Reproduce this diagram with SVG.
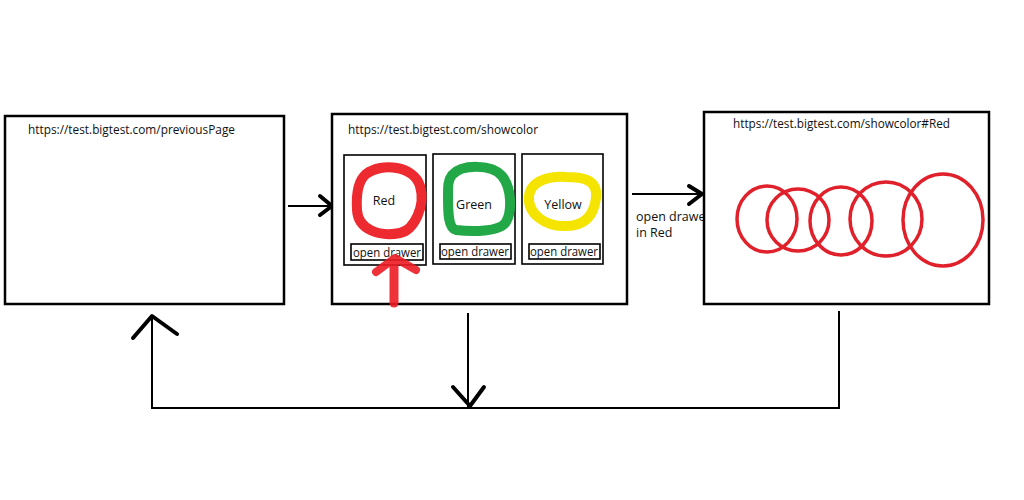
<svg xmlns="http://www.w3.org/2000/svg" width="1024" height="500" viewBox="0 0 1024 500">
<defs>
<style>
text{font-family:"Open Sans","Liberation Sans",sans-serif;font-size:12.5px;fill:#111}
.box{fill:#fff;stroke:#000;stroke-width:2.5}
.card{fill:#fff;stroke:#000;stroke-width:1.6}
.btn{fill:#fff;stroke:#000;stroke-width:1.6}
.conn{fill:none;stroke:#000;stroke-width:2}
.head{fill:none;stroke:#000;stroke-width:4;stroke-linecap:round;stroke-linejoin:round}
.ring{fill:none;stroke:#e0202a;stroke-width:3.5}
</style>
</defs>
<rect width="1024" height="500" fill="#fff"/>
<g id="connectors">
<line class="conn" x1="288" y1="206" x2="332" y2="206"/>
<polyline class="head" points="320,196 332,206 320,215"/>
<line class="conn" x1="632" y1="194" x2="703" y2="194"/>
<polyline class="head" points="689,186 702,194 689,204"/>
<text x="636" y="221">open drawer</text>
<text x="636" y="237">in Red</text>
<polyline class="conn" points="839,311 839,408 152,408 152,316" stroke-width="2.5"/>
<polyline class="head" points="133,338 152,316 177,334"/>
<line class="conn" x1="468" y1="313" x2="468" y2="407"/>
<polyline class="head" points="453,387 470,406 484,387"/>
</g>
<g id="previousPage">
<rect class="box" x="5" y="116" width="279" height="188"/>
<text x="28" y="134" textLength="207" lengthAdjust="spacingAndGlyphs">https://test.bigtest.com/previousPage</text>
</g>
<g id="showcolor">
<rect class="box" x="332" y="114" width="295" height="190"/>
<text x="348" y="134" textLength="190" lengthAdjust="spacingAndGlyphs">https://test.bigtest.com/showcolor</text>
<g id="card-red">
<rect class="card" x="344" y="155" width="82" height="110"/>
<path d="M366,174 C382,162 414,166 420,186 C426,206 414,230 400,233 C380,237 358,230 357,210 C356,194 358,181 366,174 Z" fill="none" stroke="#ec2a30" stroke-width="10"/>
<text x="384" y="205" text-anchor="middle">Red</text>
<rect class="btn" x="351" y="244" width="72" height="16"/>
<text x="387" y="257" text-anchor="middle" textLength="68" lengthAdjust="spacingAndGlyphs">open drawer</text>
</g>
<g id="card-green">
<rect class="card" x="433" y="154" width="82" height="110"/>
<path d="M452,175 C462,164 492,164 502,176 C512,188 512,212 506,222 C500,232 472,232 456,230 C448,228 448,212 448,196 C448,186 448,180 452,175 Z" fill="none" stroke="#22a847" stroke-width="10"/>
<text x="474" y="209" text-anchor="middle">Green</text>
<rect class="btn" x="440" y="244" width="71" height="15"/>
<text x="475" y="256" text-anchor="middle" textLength="68" lengthAdjust="spacingAndGlyphs">open drawer</text>
</g>
<g id="card-yellow">
<rect class="card" x="522" y="154" width="81" height="110"/>
<path d="M529,196 C531,180 550,176 566,177 C584,177 598,180 596,198 C594,214 586,226 566,226 C546,227 527,214 529,196 Z" fill="none" stroke="#f4e400" stroke-width="10"/>
<text x="563" y="209" text-anchor="middle">Yellow</text>
<rect class="btn" x="529" y="244" width="71" height="15"/>
<text x="564" y="256" text-anchor="middle" textLength="68" lengthAdjust="spacingAndGlyphs">open drawer</text>
</g>
<g id="red-pointer" fill="none" stroke="#ee1c25" stroke-linecap="round" stroke-linejoin="round" opacity="0.9">
<line x1="394" y1="303" x2="394" y2="262" stroke-width="9"/>
<polyline points="376,272 395,258 416,270" stroke-width="8"/>
</g>
</g>
<g id="showcolorRed">
<rect class="box" x="704" y="112" width="285" height="192"/>
<text x="733" y="128" textLength="217" lengthAdjust="spacingAndGlyphs">https://test.bigtest.com/showcolor#Red</text>
<ellipse class="ring" cx="767" cy="219" rx="30" ry="33"/>
<ellipse class="ring" cx="798" cy="220" rx="31" ry="31"/>
<ellipse class="ring" cx="841" cy="221" rx="31" ry="34"/>
<ellipse class="ring" cx="886" cy="219" rx="36" ry="37"/>
<ellipse class="ring" cx="943" cy="220" rx="40" ry="46"/>
</g>
</svg>
